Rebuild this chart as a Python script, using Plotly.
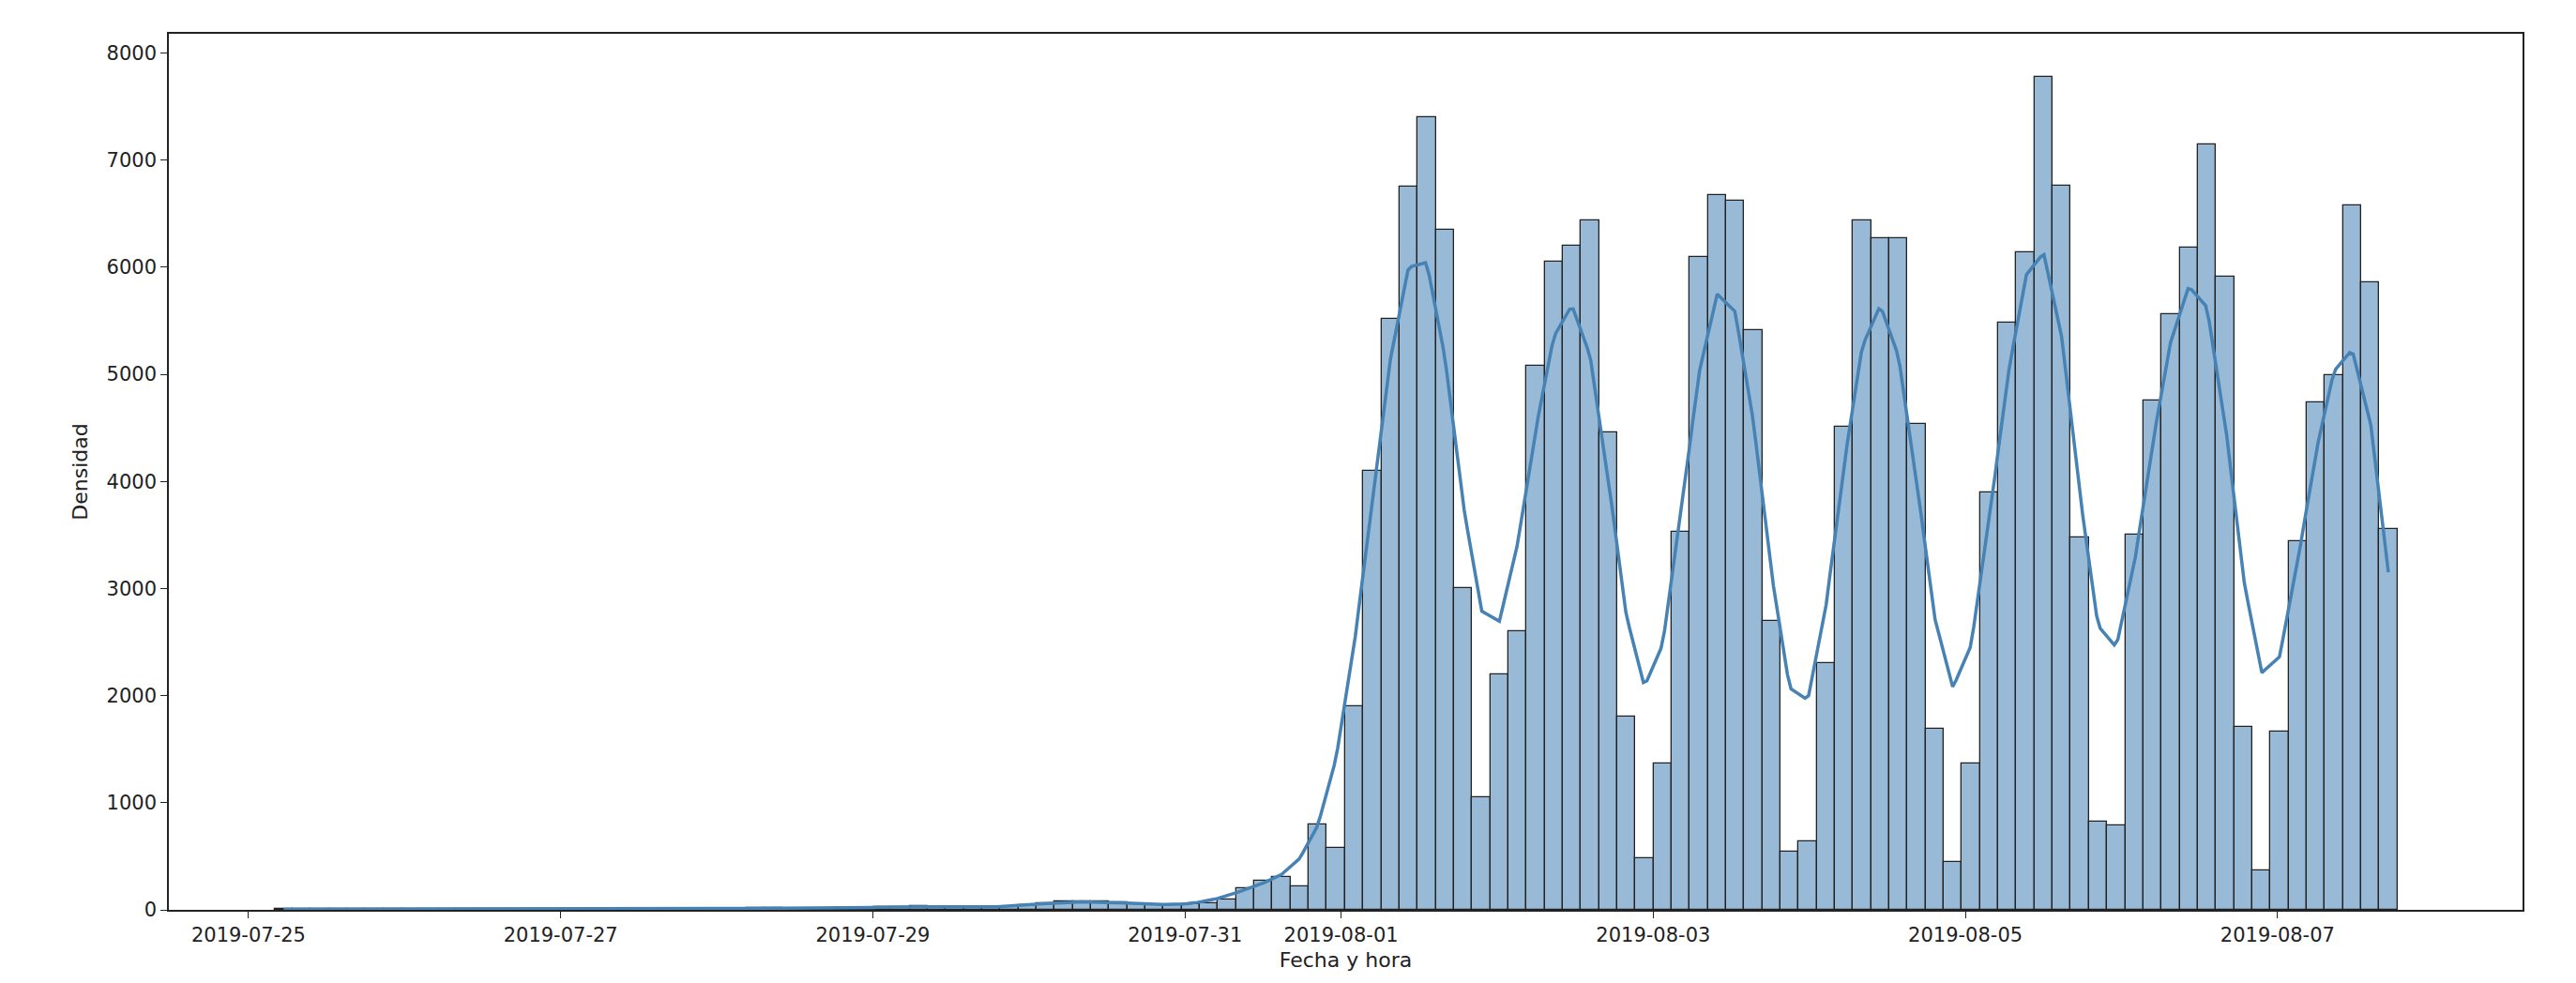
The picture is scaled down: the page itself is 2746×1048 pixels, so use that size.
import numpy as np
import pandas as pd
import plotly.graph_objects as go

bin_start = "2019-07-25 04:00"
bin_hours = 2.79

small_counts = [5, 5, 5, 5, 5, 5, 5, 5, 5, 5, 5, 5, 5, 5, 5, 5, 5, 5, 8, 8, 10,
                8, 8, 8, 10, 12, 15, 15, 12, 10, 10, 15, 20, 25, 30, 35, 30, 25, 20, 20, 30,
                45, 60, 75, 80, 80, 70, 55, 40, 40, 50, 60, 100, 200, 270, 310, 220, 800, 580]
main_counts = [1900, 4100, 5520, 6750, 7400, 6350, 3000, 1050, 2200, 2600,
               5080, 6050, 6200, 6440, 4460, 1800, 480, 1370, 3530, 6100,
               6670, 6620, 5410, 2700, 540, 640, 2300, 4510, 6440, 6270,
               6270, 4540, 1690, 450, 1370, 3900, 5480, 6140, 7780, 6760,
               3480, 820, 790, 3500, 4760, 5560, 6180, 7150, 5910, 1710,
               370, 1660, 3440, 4740, 4990, 6580, 5860, 3560]
counts = np.array(small_counts + main_counts, dtype=float)
n_bins = len(counts)

tick_labels = ["2019-07-25", "2019-07-27", "2019-07-29", "2019-07-31", "2019-08-01",
               "2019-08-03", "2019-08-05", "2019-08-07"]

start = pd.Timestamp(bin_start)
width_ms = bin_hours * 3600 * 1000
centers = [start + pd.Timedelta(hours=bin_hours * (i + 0.5)) for i in range(n_bins)]

# KDE-like smooth of the histogram (zeros beyond data)
idx = np.arange(n_bins)
sig = 1.4
kern = np.exp(-0.5 * ((idx[:, None] - idx[None, :]) / sig) ** 2)
kern /= np.sqrt(2 * np.pi) * sig
kde = kern @ counts
kde[:5] = counts[:5]
fine = np.linspace(0, n_bins - 1, 600)
kde_f = np.interp(fine, idx, kde)
fine_t = [start + pd.Timedelta(hours=bin_hours * (f + 0.5)) for f in fine]

fig = go.Figure()
fig.add_trace(go.Bar(x=centers, y=counts, width=width_ms,
                     marker=dict(color="rgba(70,130,180,0.55)", line=dict(color="#222", width=1.3))))
fig.add_trace(go.Scatter(x=fine_t, y=kde_f, mode="lines", line=dict(color="#4682b4", width=3.5)))

ax = dict(showline=True, linecolor="#222", linewidth=1.5, mirror=True, ticks="outside",
          ticklen=7, tickcolor="#222", showgrid=False, zeroline=False,
          tickfont=dict(family="DejaVu Sans", size=21, color="#222"))
fig.update_layout(
    width=2746, height=1048, plot_bgcolor="white", paper_bgcolor="white",
    showlegend=False, bargap=0,
    margin=dict(l=172, r=65, t=28, b=86),
    xaxis=dict(**ax, tickvals=[pd.Timestamp(t) for t in tick_labels], ticktext=tick_labels,
               range=[pd.Timestamp("2019-07-24 11:45"), pd.Timestamp("2019-08-08 13:40")],
               title=dict(text="Fecha y hora", font=dict(family="DejaVu Sans", size=22, color="#222"), standoff=8)),
    yaxis=dict(**ax, range=[0, 8180], tickvals=list(range(0, 8001, 1000)),
               title=dict(text="Densidad", font=dict(family="DejaVu Sans", size=22, color="#222"), standoff=14)),
)
fig.write_html("out.html")
